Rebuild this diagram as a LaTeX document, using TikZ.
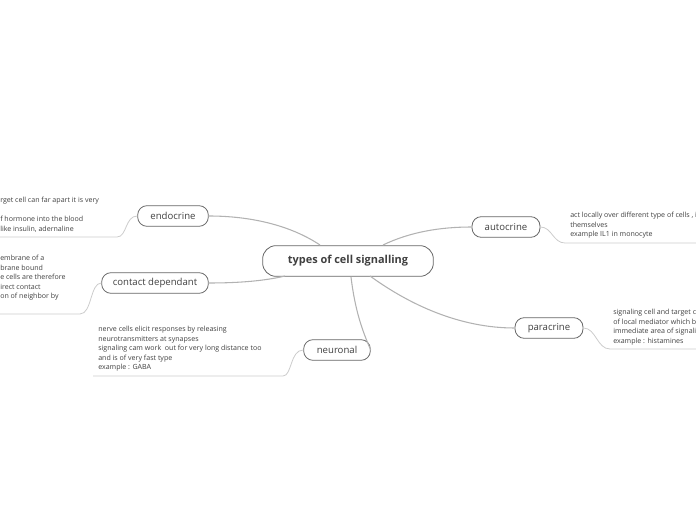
\documentclass[tikz,border=0pt]{standalone}
\usepackage{fontspec}
\setmainfont{Open Sans}
\begin{document}
\begin{tikzpicture}[x=0.75pt,y=-0.75pt,
  topic/.style={draw=gray!80!black,rounded corners=7pt,minimum height=15.5pt,inner xsep=0pt,font=\fontsize{7.2pt}{8pt}\selectfont,text=black!75,fill=white,line width=0.6pt},
  link/.style={draw=gray!60,line width=0.8pt},
  sub/.style={draw=gray!40,line width=0.6pt},
  note/.style={anchor=north west,align=left,inner sep=0pt,font=\fontsize{5.3pt}{7.1pt}\selectfont,text=black!75}]
\useasboundingbox (0,0) rectangle (696,520);
\clip (0,0) rectangle (696,520);
\node[topic,minimum width=128pt,minimum height=23pt,rounded corners=10pt,font=\bfseries\fontsize{8.2pt}{9pt}\selectfont] (c) at (348,261) {types of cell signalling};
\node[topic,minimum width=53pt] (en) at (173,216) {endocrine};
\node[topic,minimum width=80pt] (cd) at (155,283) {contact dependant};
\node[topic,minimum width=50pt] (ne) at (337,350) {neuronal};
\node[topic,minimum width=51pt] (au) at (506,227) {autocrine};
\node[topic,minimum width=51pt] (pa) at (549,328) {paracrine};
\begin{scope}[on background layer/.style={}]
\draw[link] (320,245) .. controls (290,225) and (250,216) .. (en.east);
\draw[link] (285,276) .. controls (260,282) and (230,283) .. (cd.east);
\draw[link] (351,277) .. controls (355,310) and (362,330) .. (ne.east);
\draw[link] (383,245) .. controls (410,232) and (440,227) .. (au.west);
\draw[link] (370,276) .. controls (410,305) and (460,328) .. (pa.west);
\end{scope}
\coordinate (e1) at (117,237); \coordinate (e0) at (0,237);
\draw[sub] (en.west) .. controls (125,216) and (127,237) .. (e1) -- (e0);
\coordinate (c1) at (80,314); \coordinate (c0) at (0,314);
\draw[sub] (cd.west) .. controls (90,283) and (92,314) .. (c1) -- (c0);
\coordinate (n1) at (283,376); \coordinate (n0) at (93,376);
\draw[sub] (ne.west) .. controls (290,350) and (292,376) .. (n1) -- (n0);
\coordinate (a1) at (565,243); \coordinate (a0) at (696,243);
\draw[sub] (au.east) .. controls (552,227) and (553,243) .. (a1) -- (a0);
\coordinate (p1) at (610,349); \coordinate (p0) at (696,349);
\draw[sub] (pa.east) .. controls (596,328) and (597,349) .. (p1) -- (p0);
\node[note] (ent) at (0,197) {rget cell can far apart it is very\\ \\ f hormone into the blood\\ like insulin, adernaline};
\node[note] (cdt) at (0,255) {embrane of a\\ brane bound\\ e cells are therefore\\ irect contact\\ on of neighbor by};
\node[note] (net) at (98,326) {nerve cells elicit responses by releasing\\ neurotransmitters at synapses\\ signaling cam work\ \ out for very long distance too\\ and is of very fast type\\ example : GABA};
\node[note] (aut) at (570,212) {act locally over different type of cells , i\\ themselves\\ example IL1 in monocyte};
\node[note] (pat) at (613,309) {signaling cell and target c\\ of local mediator which b\\ immediate area of signali\\ example : histamines};
\end{tikzpicture}
\end{document}
